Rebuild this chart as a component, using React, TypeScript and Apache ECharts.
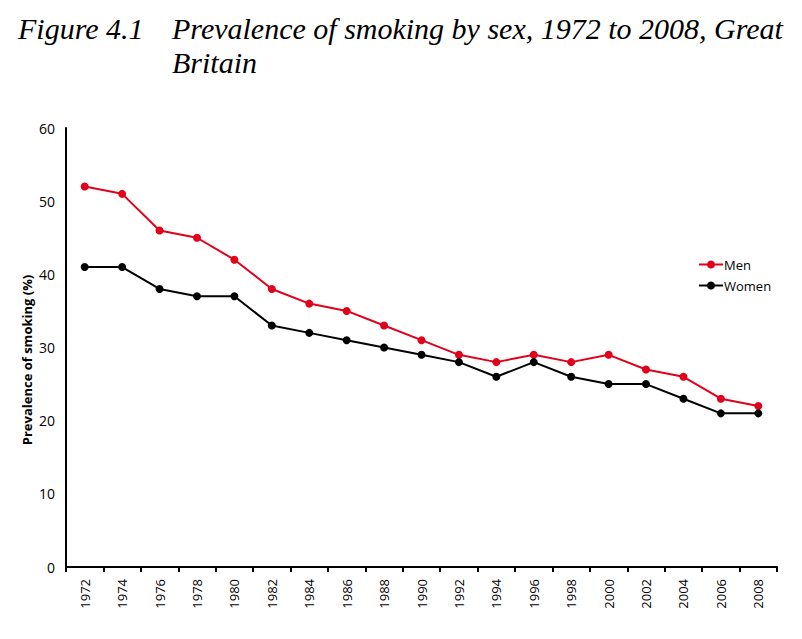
import React, { useEffect, useRef } from "react";
import * as echarts from "echarts";

const years = ["1972","1974","1976","1978","1980","1982","1984","1986","1988","1990","1992","1994","1996","1998","2000","2002","2004","2006","2008"];
const men = [52, 51, 46, 45, 42, 38, 36, 35, 33, 31, 29, 28, 29, 28, 29, 27, 26, 23, 22];
const women = [41, 41, 38, 37, 37, 33, 32, 31, 30, 29, 28, 26, 28, 26, 25, 25, 23, 21, 21];

const sans = "'Open Sans', 'DejaVu Sans', sans-serif";
const serif = "'Liberation Serif', 'DejaVu Serif', serif";

export default function App() {
  const ref = useRef<HTMLDivElement>(null);
  useEffect(() => {
    if (!ref.current) return;
    const chart = echarts.init(ref.current, null, { renderer: "svg" });
    chart.setOption({
      animation: false,
      backgroundColor: "#ffffff",
      graphic: [
        { type: "text", left: 18, top: 13, style: { text: "Figure 4.1", font: `italic 30px ${serif}`, fill: "#000" } },
        { type: "text", left: 172, top: 13, style: { text: "Prevalence of smoking by sex, 1972 to 2008, Great", font: `italic 30px ${serif}`, fill: "#000" } },
        { type: "text", left: 172, top: 47, style: { text: "Britain", font: `italic 30px ${serif}`, fill: "#000" } },
        {
          type: "text",
          x: 27,
          y: 360,
          rotation: Math.PI / 2,
          style: {
            text: "Prevalence of smoking (%)",
            font: `bold 13px ${sans}`,
            fill: "#000",
            align: "center",
            verticalAlign: "middle",
          },
        },
      ],
      legend: {
        orient: "vertical",
        left: 693,
        top: 253,
        itemWidth: 24,
        itemHeight: 10,
        itemGap: 8,
        textStyle: { fontFamily: sans, fontSize: 13, color: "#000", padding: [0, 0, 0, -4] },
        data: ["Men", "Women"],
      },
      grid: { left: 66, right: 25, top: 128, bottom: 72, containLabel: false },
      xAxis: {
        type: "category",
        data: years,
        boundaryGap: true,
        axisLine: { lineStyle: { color: "#000", width: 2 } },
        axisTick: { show: true, length: 5, lineStyle: { color: "#000", width: 2 } },
        axisLabel: { rotate: 90, fontFamily: sans, fontSize: 13, color: "#000", margin: 12, interval: 0 },
      },
      yAxis: {
        type: "value",
        min: 0,
        max: 60,
        interval: 10,
        splitLine: { show: false },
        axisLine: { show: true, lineStyle: { color: "#000", width: 2 } },
        axisTick: { show: false },
        axisLabel: { fontFamily: sans, fontSize: 14, color: "#000", margin: 11 },
      },
      series: [
        {
          name: "Men",
          type: "line",
          data: men,
          symbol: "circle",
          symbolSize: 8,
          itemStyle: { color: "#e2001a" },
          lineStyle: { color: "#e2001a", width: 2 },
        },
        {
          name: "Women",
          type: "line",
          data: women,
          symbol: "circle",
          symbolSize: 8,
          itemStyle: { color: "#000000" },
          lineStyle: { color: "#000000", width: 2 },
        },
      ],
    });
    return () => chart.dispose();
  }, []);
  return <div ref={ref} style={{ position: "absolute", left: 0, top: 0, width: 802, height: 639 }} />;
}
